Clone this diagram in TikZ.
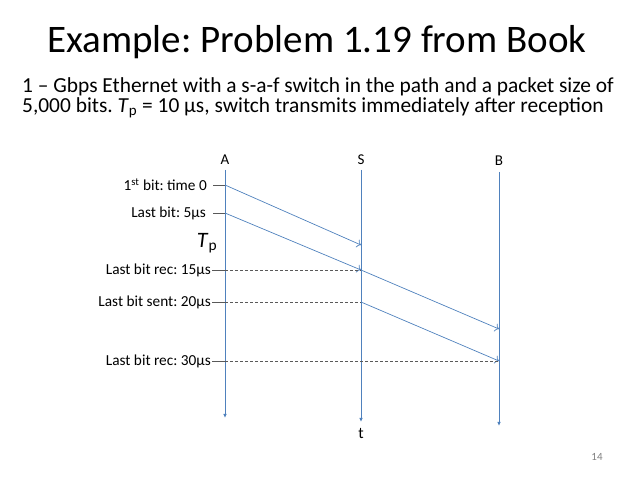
\documentclass[tikz,border=0pt]{standalone}
\usepackage{fontspec}
\setmainfont{Carlito}
\usetikzlibrary{arrows.meta}
\definecolor{lb}{RGB}{79,129,189}
\frenchspacing
\begin{document}
\begin{tikzpicture}[x=1pt,y=-1pt,
  axis/.style={lb,line width=0.9pt,-{Latex[length=4pt,width=3.5pt]}},
  msg/.style={lb,line width=0.7pt,-{To[length=4pt]}},
  dl/.style={densely dashed,line width=0.5pt,gray!70!black},
  tk/.style={line width=0.5pt,gray!70!black},
  lab/.style={font=\fontsize{15.3}{17}\selectfont,anchor=east,inner sep=1pt}]
\useasboundingbox (0,0) rectangle (638,478);
\node (title) at (317,42) {\fontsize{39}{44}\selectfont Example: Problem 1.19 from Book};
\node[anchor=west,align=left,inner sep=0] (sub) at (22,98) {\fontsize{21.4}{25}\selectfont 1 -- Gbps Ethernet with a s-a-f switch in the path and a packet size of\\[1pt] \fontsize{21.4}{25}\selectfont 5,000 bits. \textit{T}\textsubscript{p} = 10 µs, switch transmits immediately after reception};
\node (pg) at (597,457) {\fontsize{11}{12}\selectfont\color{gray}14};
\node[font=\fontsize{15}{17}\selectfont] (nA) at (225,160) {A};
\node[font=\fontsize{15}{17}\selectfont] (nS) at (361,160) {S};
\node[font=\fontsize{15}{17}\selectfont] (nB) at (499,161) {B};
\node[font=\fontsize{16}{18}\selectfont] (nt) at (361,434) {t};
\coordinate (A0) at (225,170); \coordinate (A1) at (225,418);
\coordinate (S0) at (361,170); \coordinate (S1) at (361,422);
\coordinate (B0) at (499,172); \coordinate (B1) at (499,426);
\draw[axis] (A0) -- (A1);
\draw[axis] (S0) -- (S1);
\draw[axis] (B0) -- (B1);
\coordinate (a1) at (225,185); \coordinate (a2) at (225,213);
\coordinate (a3) at (225,270); \coordinate (a4) at (225,302); \coordinate (a5) at (225,361);
\coordinate (s1) at (361,245); \coordinate (s2) at (361,270); \coordinate (s3) at (361,302);
\coordinate (b1) at (499,329); \coordinate (b2) at (499,361);
\draw[msg] (a1) -- (s1);
\draw[msg] (a2) -- (s2);
\draw[msg] (s2) -- (b1);
\draw[msg] (s3) -- (b2);
\draw[dl] (a3) -- (s2);
\draw[dl] (a4) -- (s3);
\draw[dl] (a5) -- (b2);
\node[lab] (l1) at (208,185) {1\textsuperscript{st} bit: time 0};
\node[lab] (l2) at (207,213) {Last bit: 5µs};
\node[lab] (l3) at (212,270) {Last bit rec: 15µs};
\node[lab] (l4) at (212,302) {Last bit sent: 20µs};
\node[lab] (l5) at (212,361) {Last bit rec: 30µs};
\draw[tk] (213,185) -- (a1);
\draw[tk] (213,213) -- (a2);
\draw[tk] (l3.east) -- (a3);
\draw[tk] (l4.east) -- (a4);
\draw[tk] (l5.east) -- (a5);
\node (tp) at (207,243) {\fontsize{22}{24}\selectfont\textit{T}\textsubscript{p}};
\end{tikzpicture}
\end{document}
